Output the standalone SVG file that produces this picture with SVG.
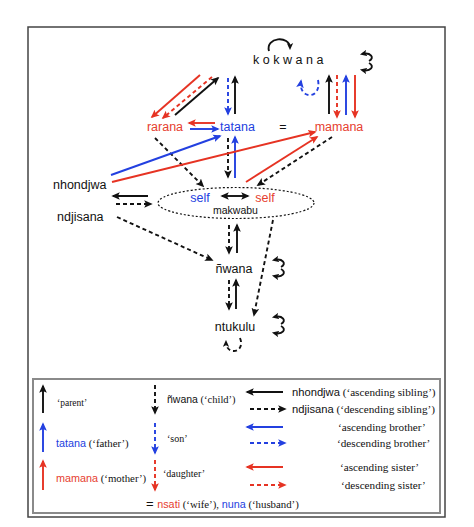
<svg xmlns="http://www.w3.org/2000/svg" width="474" height="527" viewBox="0 0 474 527">
<defs>
<style>
.ln{fill:none;stroke-width:1.9}
.k{stroke:#111}
.b{stroke:#2340e0}
.r{stroke:#e63323}
.d{stroke-dasharray:4 3}
.ak{marker-end:url(#ak)}
.ab{marker-end:url(#ab)}
.ar{marker-end:url(#ar)}
.sm{marker-end:url(#as)}
.sans{font-family:"Liberation Sans",Arial,sans-serif}
.serif{font-family:"Liberation Serif","Times New Roman",serif}
.lab{font-size:12.5px;fill:#111}
.tr{fill:#e6402f}
.tb{fill:#2340e0}
</style>
<marker id="ak" viewBox="0 0 10 10" refX="8" refY="5" markerWidth="8.5" markerHeight="8.5" markerUnits="userSpaceOnUse" orient="auto-start-reverse"><path d="M0,0.5 L10,5 L0,9.5 L2.2,5 z" fill="#111"/></marker>
<marker id="ab" viewBox="0 0 10 10" refX="8" refY="5" markerWidth="8.5" markerHeight="8.5" markerUnits="userSpaceOnUse" orient="auto-start-reverse"><path d="M0,0.5 L10,5 L0,9.5 L2.2,5 z" fill="#2340e0"/></marker>
<marker id="ar" viewBox="0 0 10 10" refX="8" refY="5" markerWidth="8.5" markerHeight="8.5" markerUnits="userSpaceOnUse" orient="auto-start-reverse"><path d="M0,0.5 L10,5 L0,9.5 L2.2,5 z" fill="#e63323"/></marker>
<marker id="as" viewBox="0 0 10 10" refX="7" refY="5" markerWidth="7" markerHeight="7" markerUnits="userSpaceOnUse" orient="auto"><path d="M0,0.5 L10,5 L0,9.5 L2.2,5 z" fill="#111"/></marker>
<g id="recip" class="ln k" stroke-width="1.6">
<path class="sm" d="M3,-1 C9,-4 5,-10 -4,-8"/>
<path class="sm" d="M3,1 C9,4 5,10 -4,8"/>
</g>
</defs>

<rect x="28" y="27" width="417" height="490" fill="#fff" stroke="#444" stroke-width="1.5"/>

<g id="connectors">
<path class="ln r ar" d="M200,75 L152,117"/>
<path class="ln r d ar" d="M212,77 L163,118"/>
<path class="ln k ak" d="M175,115 L218,78"/>
<path class="ln b d ab" d="M228,78 L228,114"/>
<path class="ln k ak" d="M235,114 L235,77"/>
<path class="ln b d ab" d="M318,80 C322,100 298,100 301,81"/>
<path class="ln k ak" d="M329,114 L329,76"/>
<path class="ln r d ar" d="M337,75 L337,117"/>
<path class="ln b ab" d="M346,115 L346,76"/>
<path class="ln r ar" d="M355,75 L355,117"/>
<path class="ln k sm" stroke-width="1.6" d="M269,51 C265,37 290,35 290,48"/>
<use href="#recip" x="366" y="62"/>
<path class="ln r ar" d="M215,123 L189,123"/>
<path class="ln b ab" d="M190,129 L218,129"/>
<path class="ln k d ak" d="M228,138 L228,177"/>
<path class="ln b ab" d="M235,178 L235,137"/>
<path class="ln k d ak" d="M155,138 L203,186"/>
<path class="ln k d ak" d="M332,137 L258,185"/>
<path class="ln r ar" d="M246,182 L317,137"/>
<path class="ln b ab" d="M111,175 L220,136"/>
<path class="ln r ar" d="M112,182 L315,132"/>
<path class="ln k ak" d="M148,196 L113,196"/>
<path class="ln k d ak" d="M116,204 L151,204"/>
<path class="ln k" stroke-width="1.6" style="marker-start:url(#ak);marker-end:url(#ak)" d="M222,196 L248,196"/>
<ellipse cx="236" cy="203" rx="78" ry="15.5" fill="none" stroke="#111" stroke-width="1.2" stroke-dasharray="2 2"/>
<path class="ln k d ak" d="M117,217 L212,260"/>
<path class="ln k d ak" d="M229,225 L229,253"/>
<path class="ln k ak" d="M237,253 L237,225"/>
<path class="ln k d ak" d="M273,220 L254,315"/>
<use href="#recip" x="278" y="268"/>
<path class="ln k d ak" d="M229,280 L229,309"/>
<path class="ln k ak" d="M236,309 L236,280"/>
<use href="#recip" x="278" y="325"/>
<path class="ln k d sm" stroke-width="1.6" d="M240,338 C246,353 226,356 226,342"/>
</g>

<g id="kokwana"><text class="sans lab" x="253" y="63.5" letter-spacing="3.5">kokwana</text></g>
<g id="rarana"><text class="sans lab tr" x="165" y="130.5" text-anchor="middle">rarana</text></g>
<g id="tatana"><text class="sans lab tb" x="237.5" y="130.5" text-anchor="middle">tatana</text></g>
<g id="equals"><text class="sans lab" x="283" y="130.5" text-anchor="middle">=</text></g>
<g id="mamana"><text class="sans lab tr" x="339" y="130.5" text-anchor="middle">mamana</text></g>
<g id="nhondjwa"><text class="sans lab" x="53" y="189">nhondjwa</text></g>
<g id="ndjisana"><text class="sans lab" x="57" y="221">ndjisana</text></g>
<g id="self-m"><text class="sans lab tb" x="200" y="201.5" text-anchor="middle">self</text></g>
<g id="self-f"><text class="sans lab tr" x="265" y="201.5" text-anchor="middle">self</text></g>
<g id="makwabu"><text class="sans" font-size="10.5" fill="#111" x="235.5" y="214" text-anchor="middle">makwabu</text></g>
<g id="nwana"><text class="sans lab" x="234" y="272.5" text-anchor="middle">ñwana</text></g>
<g id="ntukulu"><text class="sans lab" x="235" y="330.5" text-anchor="middle">ntukulu</text></g>

<g id="legend">
<rect x="33" y="379" width="407" height="134" fill="#fff" stroke="#8a8a8a" stroke-width="2"/>
<path class="ln k ak" d="M43,413 L43,386"/>
<text class="serif" font-size="9.5" fill="#111" x="57" y="406">‘parent’</text>
<path class="ln k d ak" d="M155,385 L155,413"/>
<text x="167" y="403" fill="#111" font-size="10.5"><tspan class="sans">ñwana</tspan><tspan class="serif"> (‘child’)</tspan></text>
<path class="ln b ab" d="M43,452 L43,424"/>
<text x="56" y="447" fill="#111" font-size="10.8"><tspan class="sans tb">tatana</tspan><tspan class="serif"> (‘father’)</tspan></text>
<path class="ln b d ab" d="M155,423 L155,453"/>
<text class="serif" font-size="10" fill="#111" x="167" y="442">‘son’</text>
<path class="ln r ar" d="M43,490 L43,461"/>
<text x="56" y="482" fill="#111" font-size="10.8"><tspan class="sans tr">mamana</tspan><tspan class="serif"> (‘mother’)</tspan></text>
<path class="ln r d ar" d="M155,460 L155,490"/>
<text class="serif" font-size="10" fill="#111" x="163" y="477">‘daughter’</text>
<text x="146" y="508" fill="#111" font-size="10.8"><tspan class="sans" font-size="13">=  </tspan><tspan class="sans tr">nsati</tspan><tspan class="serif"> (‘wife’), </tspan><tspan class="sans tb">nuna</tspan><tspan class="serif"> (‘husband’)</tspan></text>

<path class="ln k ak" d="M283,392 L247,392"/>
<text x="292" y="396" fill="#111" font-size="11.2"><tspan class="sans">nhondjwa</tspan><tspan class="serif"> (‘ascending sibling’)</tspan></text>
<path class="ln k d ak" d="M250,409 L285,409"/>
<text x="292" y="413" fill="#111" font-size="11.2"><tspan class="sans">ndjisana</tspan><tspan class="serif"> (‘descending sibling’)</tspan></text>
<path class="ln b ab" d="M283,427 L247,427"/>
<text class="serif" font-size="11.2" fill="#111" x="338" y="431">‘ascending brother’</text>
<path class="ln b d ab" d="M250,443 L285,443"/>
<text class="serif" font-size="11.2" fill="#111" x="337" y="447">‘descending brother’</text>
<path class="ln r ar" d="M283,467 L247,467"/>
<text class="serif" font-size="11.2" fill="#111" x="340" y="471">‘ascending sister’</text>
<path class="ln r d ar" d="M250,485 L285,485"/>
<text class="serif" font-size="11.2" fill="#111" x="341" y="489">‘descending sister’</text>
</g>
</svg>
